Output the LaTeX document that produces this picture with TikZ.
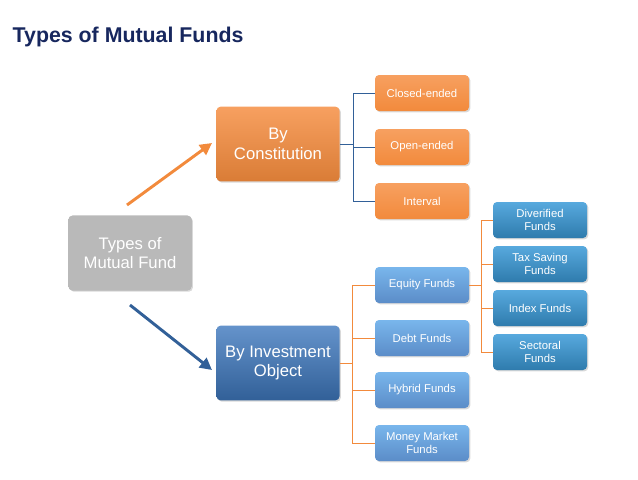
\documentclass[tikz,border=0pt]{standalone}
\usepackage{fontspec}
\setmainfont{Liberation Sans}
\usetikzlibrary{arrows.meta,shadows}
\definecolor{navy}{HTML}{17275E}
\definecolor{org}{HTML}{F28A3C}
\definecolor{orgl}{HTML}{F7A060}
\definecolor{blu}{HTML}{3E78BE}
\definecolor{blul}{HTML}{6AAEEA}
\definecolor{blur}{HTML}{3A9AD8}
\definecolor{gry}{HTML}{A8A8A8}
\begin{document}
\begin{tikzpicture}[x=0.75pt,y=-0.75pt,
  box/.style={rounded corners=3pt,text=white,align=center,drop shadow={shadow xshift=1pt,shadow yshift=-1pt,opacity=0.3}},
  big/.style={box,minimum width=92.25pt,minimum height=56pt,font=\fontsize{12.5}{14.5}\selectfont},
  small/.style={box,minimum width=70.5pt,minimum height=27pt,font=\fontsize{8.5}{9.5}\selectfont},
  bus/.style={line width=0.7pt}]
\useasboundingbox (0,0) rectangle (638,479);
\node[anchor=west,font=\bfseries\fontsize{16}{19}\selectfont,text=navy] (title) at (8,37) {Types of Mutual Funds};
\node[big,top color=gry!80,bottom color=gry!110!black,fill=gry] (root) at (130,253) {Types of\\Mutual Fund};
\node[big,top color=orgl,bottom color=org!90!black] (con) at (278,144) {By\\Constitution};
\node[big,top color=blu!80,bottom color=blu!80!black] (inv) at (278,363) {By Investment\\Object};
\foreach \n/\y/\t in {c1/93/Closed-ended,c2/147/Open-ended,c3/201/Interval}
  \node[small,top color=orgl,bottom color=org] (\n) at (422,\y) {\t};
\foreach \n/\y/\t in {e/285/Equity Funds,d/338/Debt Funds,h/390/Hybrid Funds,m/443/{Money Market\\Funds}}
  \node[small,top color=blul!90,bottom color=blu!85] (\n) at (422,\y) {\t};
\foreach \n/\y/\t in {r1/220/{Diverified\\Funds},r2/264/{Tax Saving\\Funds},r3/308/Index Funds,r4/352/{Sectoral\\Funds}}
  \node[small,top color=blur!85,bottom color=blur!80!black] (\n) at (540,\y) {\t};
\coordinate (a1s) at (127,205); \coordinate (a1e) at (212,143);
\coordinate (a2s) at (130,305); \coordinate (a2e) at (212,370);
\draw[org,line width=2.2pt,-{Triangle[length=9pt,width=9pt]}] (a1s) -- (a1e);
\draw[blu!80!black,line width=2.2pt,-{Triangle[length=9pt,width=9pt]}] (a2s) -- (a2e);
\begin{scope}[bus,draw=blu!80!black]
\draw (con.east) -- (353,144);
\draw (c1.west) -- (353,93) -- (353,201) -- (c3.west);
\draw (c2.west) -- (353,147);
\end{scope}
\begin{scope}[bus,draw=org]
\draw (inv.east) -- (352,363);
\draw (e.west) -- (352,285) -- (352,443) -- (m.west);
\draw (d.west) -- (352,338); \draw (h.west) -- (352,390);
\draw (e.east) -- (481,285);
\draw (r1.west) -- (481,220) -- (481,352) -- (r4.west);
\draw (r2.west) -- (481,264); \draw (r3.west) -- (481,308);
\end{scope}
\end{tikzpicture}
\end{document}
